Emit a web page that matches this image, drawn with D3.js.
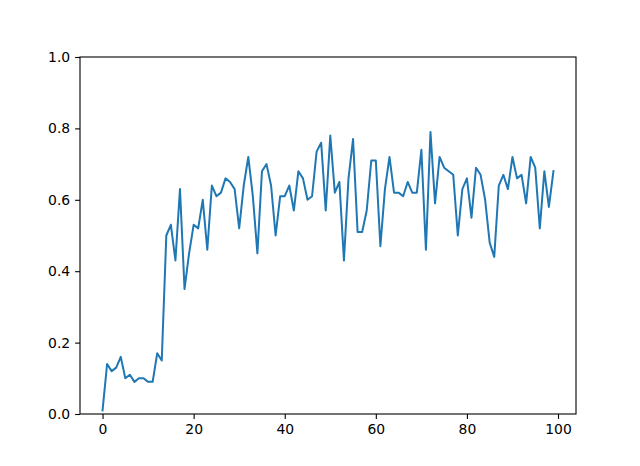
<!DOCTYPE html>
<html>
<head>
<meta charset="utf-8">
<script src="https://cdn.jsdelivr.net/npm/d3@7"></script>
<style>
  html, body { margin: 0; padding: 0; background: #fff; }
  svg { display: block; }
  text { font-family: "DejaVu Sans", sans-serif; }
</style>
</head>
<body>
<svg id="chart" width="640" height="466"></svg>
<script>
const values = [
  0.01, 0.14, 0.12, 0.13, 0.16, 0.10, 0.11, 0.09, 0.10, 0.10,
  0.09, 0.09, 0.17, 0.15, 0.50, 0.53, 0.43, 0.63, 0.35, 0.45,
  0.53, 0.52, 0.60, 0.46, 0.64, 0.61, 0.62, 0.66, 0.65, 0.63,
  0.52, 0.64, 0.72, 0.61, 0.45, 0.68, 0.70, 0.64, 0.50, 0.61,
  0.61, 0.64, 0.57, 0.68, 0.66, 0.60, 0.61, 0.735, 0.76, 0.57,
  0.78, 0.62, 0.65, 0.43, 0.66, 0.77, 0.51, 0.51, 0.57, 0.71,
  0.71, 0.47, 0.63, 0.72, 0.62, 0.62, 0.61, 0.65, 0.62, 0.62,
  0.74, 0.46, 0.79, 0.59, 0.72, 0.69, 0.68, 0.67, 0.50, 0.63,
  0.66, 0.55, 0.69, 0.67, 0.60, 0.48, 0.44, 0.64, 0.67, 0.63,
  0.72, 0.66, 0.67, 0.59, 0.72, 0.69, 0.52, 0.68, 0.58, 0.68
];
const xTicks = [0, 20, 40, 60, 80, 100];
const yTicks = [0.0, 0.2, 0.4, 0.6, 0.8, 1.0];

const svg = d3.select("#chart");
const mLeft = 80, mRight = 576, mTop = 57, mBottom = 414;
const n = values.length;
const pad = (n - 1) * 0.05;
const x = d3.scaleLinear().domain([-pad, (n - 1) + pad]).range([mLeft, mRight]);
const y = d3.scaleLinear().domain([0, 1]).range([mBottom, mTop]);

// line
const line = d3.line().x((d, i) => x(i)).y(d => y(d));
svg.append("path")
  .datum(values)
  .attr("d", line)
  .attr("fill", "none")
  .attr("stroke", "#1f77b4")
  .attr("stroke-width", 2)
  .attr("stroke-linejoin", "round")
  .attr("stroke-linecap", "square");

// axes
const xAxis = d3.axisBottom(x).tickValues(xTicks).tickSize(4.9).tickPadding(4.9).tickFormat(d3.format("d"));
const yAxis = d3.axisLeft(y).tickValues(yTicks).tickSize(4.9).tickPadding(4.9).tickFormat(d3.format(".1f"));

const gx = svg.append("g").attr("transform", `translate(0,${mBottom})`).call(xAxis);
const gy = svg.append("g").attr("transform", `translate(${mLeft},0)`).call(yAxis);
[gx, gy].forEach(g => {
  g.select(".domain").remove();
  g.selectAll(".tick line").attr("stroke", "#000").attr("stroke-width", 1.1);
  g.selectAll(".tick text").attr("fill", "#000").style("font-size", "13.9px").style("font-family", "DejaVu Sans, sans-serif");
});

// spines
svg.append("rect")
  .attr("x", mLeft).attr("y", mTop)
  .attr("width", mRight - mLeft).attr("height", mBottom - mTop)
  .attr("fill", "none").attr("stroke", "#000").attr("stroke-width", 1.1);
</script>
</body>
</html>
